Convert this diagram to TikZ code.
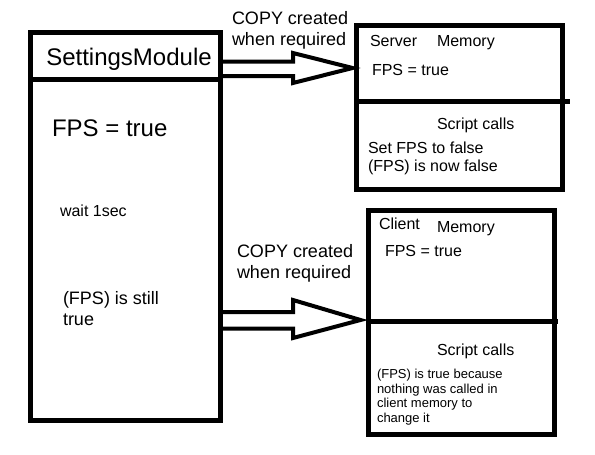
\documentclass[tikz,border=0pt]{standalone}
\usepackage{fontspec}
\setmainfont{Liberation Sans}
\usetikzlibrary{calc}
\begin{document}
\begin{tikzpicture}[x=1pt,y=-1pt,
  box/.style={draw, line width=5pt, inner sep=0pt, outer sep=0pt},
  divider/.style={line width=5pt},
  hollowarrow/.style={draw, line width=4pt},
  lbl/.style={inner sep=0pt, outer sep=0pt, anchor=west, text height=0.72em, text depth=0pt},
  para/.style={inner sep=0pt, outer sep=0pt, anchor=west, align=left},
  fbig/.style={font=\fontsize{24pt}{28pt}\selectfont},
  fmid/.style={font=\fontsize{18pt}{21pt}\selectfont},
  fnorm/.style={font=\fontsize{16pt}{18pt}\selectfont},
  fsmall/.style={font=\fontsize{13pt}{14.5pt}\selectfont},
]
\useasboundingbox (0,0) rectangle (595,455);
\fill[white] (0,0) rectangle (595,455);

% boxes
\node[box, minimum width=190pt, minimum height=388pt] (sm) at (125.5,226.5) {};
\node[box, minimum width=206pt, minimum height=164pt] (srv) at (459.5,107.5) {};
\node[box, minimum width=186pt, minimum height=224pt] (cl) at (461.5,322.5) {};

% dividers
\draw[divider] (sm.west |- 0,79.5) -- (sm.east |- 0,79.5);
\coordinate (srvend) at (570,101);
\draw[divider] (srv.west |- srvend) -- (srvend);
\coordinate (clend) at (558,321.5);
\draw[divider] (cl.west |- clend) -- (clend);

% hollow arrows
\draw[hollowarrow] (sm.east |- 0,61.5) -- (293,61.5) -- (293,53)
  -- ($(srv.west |- 0,68)+(-4,0)$) -- (293,83) -- (293,76) -- (sm.east |- 0,76);
\draw[hollowarrow] (sm.east |- 0,312) -- (293,312) -- (293,300)
  -- ($(cl.west |- 0,320)+(-8,0)$) -- (293,338) -- (293,328.5) -- (sm.east |- 0,328.5);

% settings module texts
\node[lbl, fbig, anchor=center] (title) at (129,62) {SettingsModule};
\node[lbl, fbig] (fps1) at (52,133) {FPS = true};
\node[lbl, fnorm] (wait) at (60,213) {wait 1sec};
\node[para, fmid] (still) at (63,308.5) {(FPS) is still\\true};

% arrow labels
\node[para, fmid] (copy1) at (232,30.5) {COPY created\\when required};
\node[para, fmid] (copy2) at (237,263) {COPY created\\when required};

% server texts
\node[lbl, fnorm] (srvname) at (370,43) {Server};
\node[lbl, fnorm] (srvmem) at (437,43) {Memory};
\node[lbl, fnorm] (srvfps) at (372,72) {FPS = true};
\node[lbl, fnorm] (srvcalls) at (437,126) {Script calls};
\node[para, fnorm] (srvbody) at (368,158) {Set FPS to false\\(FPS) is now false};

% client texts
\node[lbl, fnorm] (clname) at (379,226) {Client};
\node[lbl, fnorm] (clmem) at (437,229) {Memory};
\node[lbl, fnorm] (clfps) at (385,253) {FPS = true};
\node[lbl, fnorm] (clcalls) at (437,352) {Script calls};
\node[para, fsmall] (clbody) at (377,397) {(FPS) is true because\\nothing was called in\\client memory to\\change it};
\end{tikzpicture}
\end{document}
